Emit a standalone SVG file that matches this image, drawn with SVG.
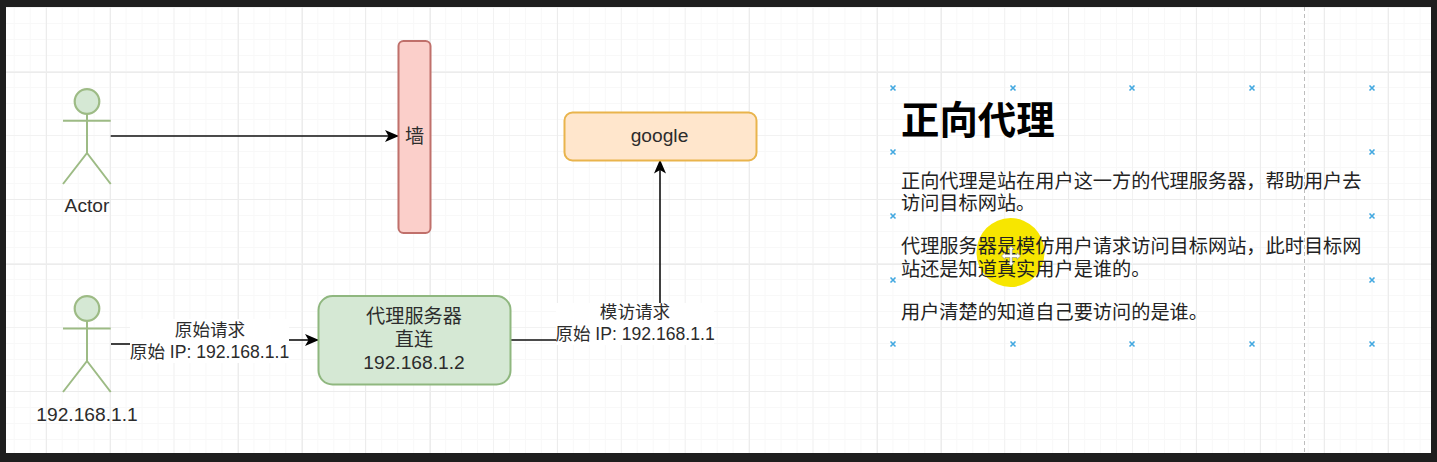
<svg xmlns="http://www.w3.org/2000/svg" width="1437" height="462" viewBox="0 0 1437 462">
<style>
text{font-family:"Liberation Sans","Noto Sans CJK SC",sans-serif;fill:#2c2c2c}
.c{text-anchor:middle;font-size:19.2px}
.l{text-anchor:middle;font-size:17.6px}
.body{font-size:19.2px;fill:#222}
.title{font-size:38.4px;font-weight:bold;fill:#000}
.actor{fill:none;stroke:#9dbb85;stroke-width:2}
.head{fill:#d5e8d4;stroke:#9dbb85;stroke-width:2.2}
.edge{fill:none;stroke:#111;stroke-width:1.6}
.mark{stroke:#42a8e0;stroke-width:1.6;fill:none}
.strong{stroke:#ececec;stroke-width:1}
</style>
<defs>
<pattern id="minor" x="-17.2" y="8" width="15.975" height="16" patternUnits="userSpaceOnUse">
<path d="M15.5 0V16M0 15.5H16" fill="none" stroke="#f8f8f8" stroke-width="1"/>
</pattern>
<pattern id="major" x="-17.2" y="8" width="63.9" height="64" patternUnits="userSpaceOnUse">
<path d="M63.4 0V64M0 63.5H63.9" fill="none" stroke="#f2f2f2" stroke-width="1"/>
</pattern>
<marker id="arrow" viewBox="0 0 14 12" refX="13" refY="6" markerWidth="14" markerHeight="12" markerUnits="userSpaceOnUse" orient="auto">
<path d="M0 0L14 6L0 12L3.5 6Z" fill="#000"/>
</marker>
<path id="x" class="mark" d="M-2.5 -2.5L2.5 2.5M-2.5 2.5L2.5 -2.5"/>
</defs>
<rect width="1437" height="462" fill="#1e1e1e"/>
<g id="canvas">
<rect x="6" y="7" width="1425" height="446" fill="#fff"/>
<rect x="6" y="7" width="1425" height="446" fill="url(#minor)"/>
<rect x="6" y="7" width="1425" height="446" fill="url(#major)"/>
<path class="strong" d="M46.5 7V453M110.5 7V453M238.5 7V453M302.5 7V453M365.5 7V453M430.5 7V453M557.5 7V453M749.5 7V453M877.5 7V453M941.5 7V453M1068.5 7V453M1196.500 7V453M1260.500 7V453M1324.500 7V453M1388.500 7V453M6 72.500H1431M6 199.500H1431M6 264.500H1431M6 391.500H1431"/>
<path d="M1304.500 7V453" stroke="#bdbdbd" stroke-width="1" stroke-dasharray="4 3"/>
</g>
<g id="connectors">
<path class="edge" marker-end="url(#arrow)" d="M110.700 136H398"/>
<path class="edge" d="M111 344H131"/>
<path class="edge" marker-end="url(#arrow)" d="M289 340H318"/>
<path class="edge" marker-end="url(#arrow)" d="M510 340H660V160.500"/>
</g>
<g id="actor-1">
<circle class="head" cx="87" cy="101.500" r="12.300"/>
<path class="actor" d="M63 120.700H110.700M87 114V153L63 184M87 153L110.700 184"/>
<text class="c" x="87" y="212">Actor</text>
</g>
<g id="wall">
<rect x="398.500" y="41" width="32" height="192" rx="5" fill="#fbcfca" stroke="#c0706b" stroke-width="2"/>
<text class="c" x="414.500" y="143">墙</text>
</g>
<g id="google">
<rect x="564.500" y="112.500" width="192" height="48" rx="8" fill="#ffe6cc" stroke="#e9b44c" stroke-width="2"/>
<text class="c" x="659.500" y="142">google</text>
</g>
<g id="actor-2">
<circle class="head" cx="87" cy="308.500" r="12.300"/>
<path class="actor" d="M63 328.500H110.700M87 321V361L63 392M87 361L110.700 392"/>
<text class="c" x="87" y="421">192.168.1.1</text>
</g>
<g id="proxy">
<rect x="318.500" y="296" width="192" height="88.500" rx="14" fill="#d5e8d4" stroke="#8fb77f" stroke-width="2"/>
<text class="c" x="414" y="323">代理服务器</text>
<text class="c" x="414" y="346">直连</text>
<text class="c" x="414" y="369">192.168.1.2</text>
</g>
<g id="label-original">
<rect x="130" y="319" width="159" height="44" fill="#fff"/>
<text class="l" x="210" y="336">原始请求</text>
<text class="l" x="209.500" y="358">原始 IP: 192.168.1.1</text>
</g>
<g id="label-imitate">
<rect x="556" y="303" width="158" height="42" fill="#fff"/>
<text class="l" x="635" y="318">模访请求</text>
<text class="l" x="635" y="340">原始 IP: 192.168.1.1</text>
</g>
<g id="text-block">
<ellipse cx="1010.500" cy="252.500" rx="34" ry="34.500" fill="#f7e600"/>
<g id="handles">
<use href="#x" x="893" y="88"/><use href="#x" x="1013" y="88"/><use href="#x" x="1132" y="88"/><use href="#x" x="1252" y="88"/><use href="#x" x="1372" y="88"/>
<use href="#x" x="893" y="152"/><use href="#x" x="1372" y="152"/>
<use href="#x" x="893" y="216"/><use href="#x" x="1372" y="216"/>
<use href="#x" x="893" y="280"/><use href="#x" x="1372" y="280"/>
<use href="#x" x="893" y="344"/><use href="#x" x="1013" y="344"/><use href="#x" x="1132" y="344"/><use href="#x" x="1252" y="344"/><use href="#x" x="1372" y="344"/>
</g>
<text class="title" x="901" y="134">正向代理</text>
<text class="body" x="901" y="188">正向代理是站在用户这一方的代理服务器，帮助用户去</text>
<text class="body" x="901" y="210">访问目标网站。</text>
<text class="body" x="901" y="253">代理服务器是模仿用户请求访问目标网站，此时目标网</text>
<text class="body" x="901" y="276">站还是知道真实用户是谁的。</text>
<text class="body" x="901" y="319">用户清楚的知道自己要访问的是谁。</text>
<path d="M1011 246L1014 249.500H1012.200V254.500H1017V252.700L1020.500 256L1017 259.300V257.500H1012.200V262.500H1014L1011 266L1008 262.500H1009.800V257.500H1005V259.300L1001.500 256L1005 252.700V254.500H1009.800V249.500H1008Z" fill="#fff" stroke="#888" stroke-width="0.600"/>
</g>
</svg>
